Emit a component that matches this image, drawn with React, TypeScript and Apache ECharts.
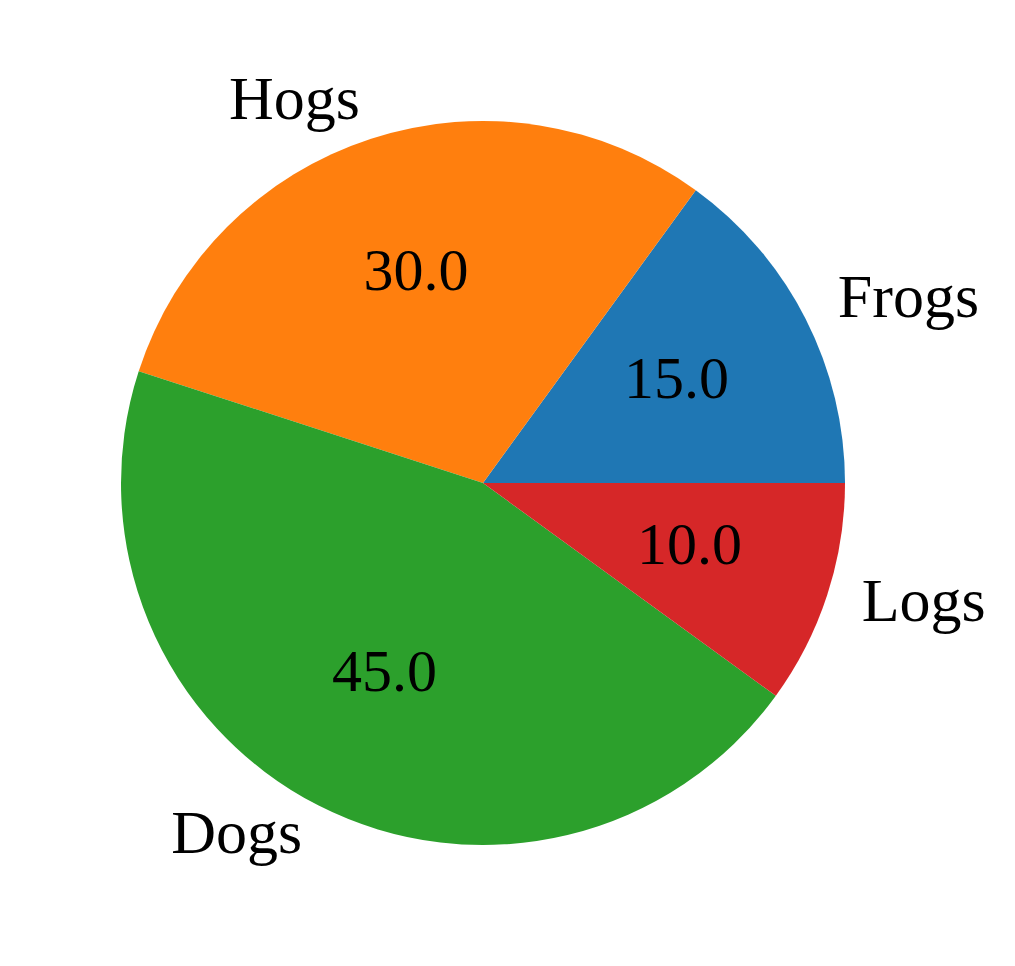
import React, { useEffect, useRef } from 'react';
import * as echarts from 'echarts';

const labels = ['Frogs', 'Hogs', 'Dogs', 'Logs'];
const sizes = [15, 30, 45, 10];
const colors = ['#1f77b4', '#ff7f0e', '#2ca02c', '#d62728'];

const CX = 483;
const CY = 483;
const R = 362;
const FONT = '"Liberation Serif", "DejaVu Serif", serif';

const App: React.FC = () => {
  const chartRef = useRef<HTMLDivElement>(null);

  useEffect(() => {
    document.body.style.margin = '0';
    if (!chartRef.current) return;
    const chart = echarts.init(chartRef.current, undefined, { renderer: 'svg' });

    const total = sizes.reduce((a, b) => a + b, 0);

    const option: echarts.EChartsOption = {
      animation: false,
      backgroundColor: '#ffffff',
      series: [
        {
          // the visible wedges with the names outside (labeldistance 1.1)
          name: 'pie',
          type: 'pie',
          center: [CX, CY],
          radius: [0, R],
          startAngle: 0,
          clockwise: false,
          avoidLabelOverlap: false,
          silent: true,
          data: labels.map((name, i) => ({
            name,
            value: sizes[i],
            itemStyle: { color: colors[i] }
          })),
          itemStyle: { borderWidth: 0 },
          label: {
            show: true,
            position: 'outside',
            formatter: '{b}',
            color: '#000',
            fontFamily: FONT,
            fontSize: 62,
            offset: [0, -6],
            distanceToLabelLine: 0
          },
          labelLine: { show: false, length: R * 0.1, length2: 0 }
        },
        {
          // transparent copy, only to put the percentages at 0.6 r
          name: 'pct',
          type: 'pie',
          center: [CX, CY],
          radius: [0, R * 1.2 - 6],
          startAngle: 0,
          clockwise: false,
          avoidLabelOverlap: false,
          silent: true,
          z: 3,
          data: labels.map((name, i) => ({
            name,
            value: sizes[i],
            itemStyle: { color: 'rgba(0,0,0,0)' }
          })),
          itemStyle: { borderWidth: 0 },
          label: {
            show: true,
            position: 'inside',
            formatter: (p: any) => ((p.value / total) * 100).toFixed(1),
            color: '#000',
            fontFamily: FONT,
            fontSize: 60,
            offset: [0, -6]
          },
          labelLine: { show: false }
        }
      ]
    };

    chart.setOption(option);
    return () => chart.dispose();
  }, []);

  return <div ref={chartRef} style={{ width: 1015, height: 966 }} />;
};

export default App;
